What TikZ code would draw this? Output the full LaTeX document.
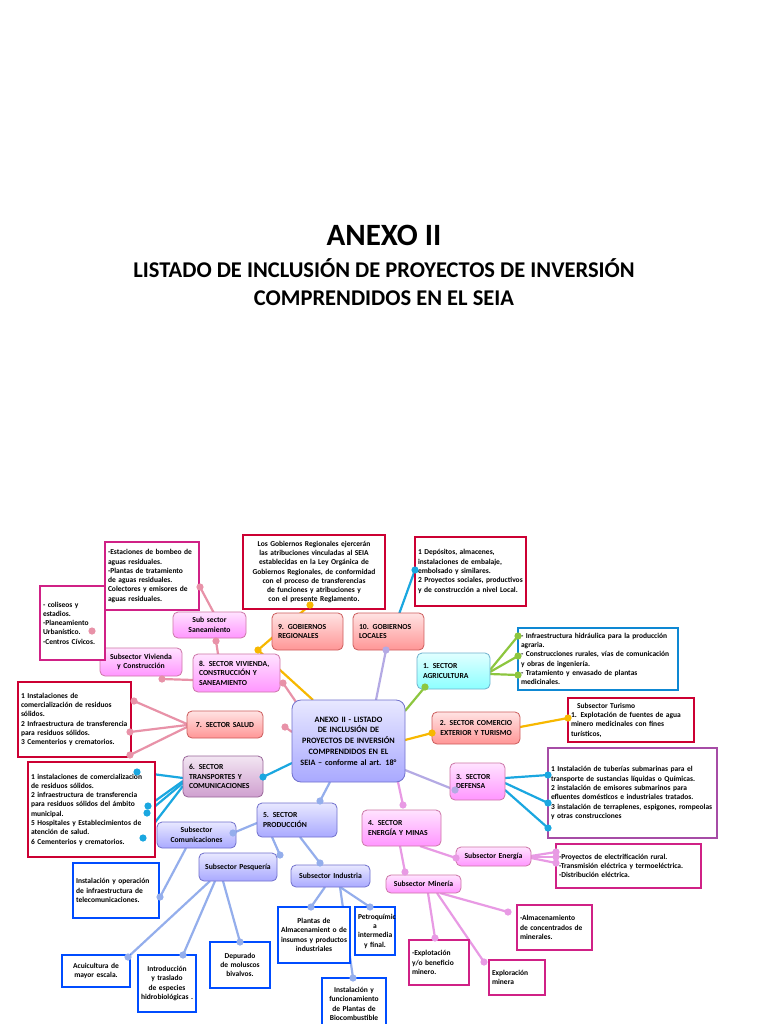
\documentclass[tikz,border=0pt]{standalone}
\usepackage{fontspec}
\setmainfont{Carlito}
\begin{document}
\hyphenpenalty=10000 \exhyphenpenalty=10000
\begin{tikzpicture}[x=1pt,y=-1pt,
 base/.style={rounded corners=5pt,line width=0.8pt,inner sep=2pt,font=\fontsize{7.7}{9.4}\selectfont\bfseries},
 pk/.style={base,draw=#1!80!black,top color=#1!20,bottom color=#1!75},
 pinkb/.style={pk=pink!60!red},
 magb/.style={pk=magenta!55!white},
 blueb/.style={pk=blue!45!white},
 agrib/.style={pk=cyan!60!white},
 purb/.style={pk=violet!50!white},
 tb/.style={line width=1.1pt,fill=white,inner sep=2pt,font=\fontsize{7.5}{9.3}\selectfont\bfseries},
 tred/.style={tb,draw=purple!80!red},
 tmag/.style={tb,draw=magenta!70!violet},
 tblu/.style={tb,draw=blue!70!cyan},
 tcy/.style={tb,draw=cyan!70!blue},
 tvio/.style={tb,draw=violet!70},
]
\definecolor{cpink}{HTML}{E892A8}
\definecolor{cgold}{HTML}{F7B800}
\definecolor{clav}{HTML}{B4AAE4}
\definecolor{cgreen}{HTML}{8DC63F}
\definecolor{ccyan}{HTML}{1AA7E0}
\definecolor{cmag}{HTML}{E89AE4}
\definecolor{cblue}{HTML}{94AEEC}
\useasboundingbox (0,0) rectangle (768,1024);
\fill[white] (0,0) rectangle (768,1024);
\node[font=\fontsize{31}{34}\selectfont\bfseries] (t1) at (384,235) {ANEXO II};
\node[font=\fontsize{22.5}{28.5}\selectfont\bfseries,align=center] (t2) at (384,282) {LISTADO DE INCLUSIÓN DE PROYECTOS DE INVERSIÓN\\COMPRENDIDOS EN EL SEIA};
\newcommand\bx[8]{\node[#6,minimum width={(#4-#2)*1pt},minimum height={(#5-#3)*1pt},text width={(#4-#2-6)*1pt},align=#7] (#1) at ({(#2+#4)/2},{(#3+#5)/2}) {#8};}
\gdef\dotlist{}
\newcommand\cn[3]{\draw[#1,line width=2.2pt] (#2) -- (#3); \xdef\dotlist{\unexpanded\expandafter{\dotlist}\noexpand\fill[#1] (#3) circle (3.6pt);}}
% connectors first
\coordinate (c9) at (258,650); \coordinate (c9b) at (310,605);
\coordinate (c10) at (386,650); \coordinate (c10b) at (415,570);
\coordinate (cag) at (425,687); \coordinate (ca1) at (518,636); \coordinate (ca2) at (518,656); \coordinate (ca3) at (518,675);
\coordinate (c2) at (432,733); \coordinate (ct) at (568,718);
\coordinate (c3) at (455,790); \coordinate (cd1) at (548,775); \coordinate (cd2) at (548,803); \coordinate (cd3) at (548,828);
\coordinate (c4) at (403,805);
\coordinate (ce) at (456,858); \coordinate (ce1) at (556,852); \coordinate (ce2) at (556,857); \coordinate (ce3) at (556,863);
\coordinate (cm) at (405,872);
\coordinate (cm1) at (508,912); \coordinate (cm2) at (435,938); \coordinate (cm3) at (484,962);
\coordinate (c5) at (320,801);
\coordinate (cc) at (233,833); \coordinate (cp) at (280,855); \coordinate (ci) at (320,863);
\coordinate (ctel) at (160,897); \coordinate (cac) at (128,957); \coordinate (cin) at (183,955); \coordinate (cde) at (240,942);
\coordinate (cpl) at (311,907); \coordinate (cpe) at (370,907); \coordinate (cbi) at (353,978);
\coordinate (c6) at (263,777); \coordinate (tr1) at (137,772); \coordinate (tr2) at (148,806); \coordinate (tr3) at (147,813); \coordinate (tr4) at (143,838);
\coordinate (c7) at (285,727); \coordinate (s1) at (134,701); \coordinate (s2) at (130,732); \coordinate (s3) at (130,755);
\coordinate (c8) at (283,683); \coordinate (cviv) at (162,679); \coordinate (csan) at (216,641); \coordinate (csb) at (200,587); \coordinate (cvb) at (92,631);
\cn{cgold}{313,700}{c9} \cn{cgold}{c9}{c9b}
\cn{clav}{376,700}{c10} \cn{ccyan}{c10}{c10b}
\cn{cgreen}{405,711}{cag} \cn{cgreen}{490,670}{ca1} \cn{cgreen}{490,672}{ca2} \cn{cgreen}{490,674}{ca3}
\cn{cgold}{405,740}{c2} \cn{cgold}{520,727}{ct}
\cn{clav}{405,770}{c3} \cn{ccyan}{505,778}{cd1} \cn{ccyan}{505,783}{cd2} \cn{ccyan}{505,790}{cd3}
\cn{cmag}{398,782}{c4}
\cn{cmag}{420,846}{ce} \cn{cmag}{531,856}{ce1} \cn{cmag}{531,857}{ce2} \cn{cmag}{531,858}{ce3}
\cn{cmag}{400,846}{cm}
\cn{cmag}{440,893}{cm1} \cn{cmag}{428,893}{cm2} \cn{cmag}{437,893}{cm3}
\cn{cblue}{330,782}{c5}
\cn{cblue}{257,823}{cc} \cn{cblue}{272,837}{cp} \cn{cblue}{300,837}{ci}
\cn{cblue}{186,848}{ctel} \cn{cblue}{210,881}{cac} \cn{cblue}{215,881}{cin} \cn{cblue}{223,881}{cde}
\cn{cblue}{325,887}{cpl} \cn{cblue}{340,887}{cpe} \cn{cblue}{340,887}{cbi}
\cn{ccyan}{292,763}{c6} \cn{ccyan}{183,778}{tr1} \cn{ccyan}{183,781}{tr2} \cn{ccyan}{183,783}{tr3} \cn{ccyan}{183,786}{tr4}
\cn{cpink}{292,732}{c7} \cn{cpink}{187,724}{s1} \cn{cpink}{187,725}{s2} \cn{cpink}{187,727}{s3}
\cn{cpink}{296,702}{c8} \cn{cpink}{193,680}{cviv} \cn{cpink}{218,654}{csan} \cn{cpink}{216,617}{csb} \cn{cpink}{105,650}{cvb}
% nodes
\bx{cen}{292}{700}{405}{782}{blueb,rounded corners=9pt,font=\fontsize{8.2}{10.8}\selectfont\bfseries}{center}{ANEXO II - LISTADO DE INCLUSIÓN DE PROYECTOS DE INVERSIÓN COMPRENDIDOS EN EL SEIA – conforme al art. 18°}
\bx{n9}{272}{613}{343}{650}{pinkb}{left}{\hspace*{3pt}9. GOBIERNOS\\\hspace*{3pt}REGIONALES}
\bx{n10}{353}{613}{424}{650}{pinkb}{left}{\hspace*{3pt}10. GOBIERNOS\\\hspace*{3pt}LOCALES}
\bx{gr}{243}{535}{385}{609}{tred}{center}{Los Gobiernos Regionales ejercerán las atribuciones vinculadas al SEIA establecidas en la Ley Orgánica de Gobiernos Regionales, de conformidad con el proceso de transferencias de funciones y atribuciones y con el presente Reglamento.}
\bx{gl}{415}{537}{526}{606}{tred}{left}{1 Depósitos, almacenes, instalaciones de embalaje, embolsado y similares.\\2 Proyectos sociales, productivos y de construcción a nivel Local.}
\bx{n1}{417}{653}{490}{689}{agrib}{left}{\hspace*{3pt}1. SECTOR\\\hspace*{3pt}AGRICULTURA}
\bx{ag}{518}{628}{678}{690}{tcy}{left}{- Infraestructura hidráulica para la producción agraria.\\- Construcciones rurales, vías de comunicación y obras de ingeniería.\\- Tratamiento y envasado de plantas medicinales.}
\bx{n2}{432}{712}{520}{744}{pinkb}{center}{2. SECTOR COMERCIO EXTERIOR Y TURISMO}
\bx{tu}{568}{698}{694}{742}{tred}{left}{\hspace*{6pt}Subsector Turismo\\1. Explotación de fuentes de agua minero medicinales con fines turísticos,}
\bx{n3}{450}{763}{505}{800}{magb}{left}{\hspace*{3pt}3. SECTOR\\\hspace*{3pt}DEFENSA}
\bx{de}{548}{748}{717}{838}{tvio}{left}{1 Instalación de tuberías submarinas para el transporte de sustancias líquidas o Químicas.\\2 instalación de emisores submarinos para efluentes domésticos e industriales tratados.\\3 instalación de terraplenes, espigones, rompeolas y otras construcciones}
\bx{n4}{362}{810}{441}{846}{magb}{left}{\hspace*{3pt}4. SECTOR\\\hspace*{3pt}ENERGÍA Y MINAS}
\bx{se}{456}{847}{531}{866}{magb}{center}{Subsector Energía}
\bx{en}{556}{844}{701}{888}{tmag}{left}{-Proyectos de electrificación rural.\\-Transmisión eléctrica y termoeléctrica.\\-Distribución eléctrica.\\[2pt]}
\bx{sm}{386}{875}{461}{893}{magb}{center}{Subsector Minería}
\bx{m1}{517}{905}{592}{950}{tmag}{left}{-Almacenamiento de concentrados de minerales.}
\bx{m2}{409}{940}{469}{985}{tmag}{left}{-Explotación y/o beneficio minero.}
\bx{m3}{489}{960}{545}{995}{tmag}{left}{Exploración minera}
\bx{n5}{257}{803}{337}{837}{blueb}{left}{\hspace*{3pt}5. SECTOR\\\hspace*{3pt}PRODUCCIÓN}
\bx{sc}{157}{822}{236}{848}{blueb}{center}{Subsector Comunicaciones}
\bx{sp}{199}{853}{277}{881}{blueb}{center}{Subsector Pesquería}
\bx{si}{291}{865}{370}{887}{blueb}{center}{Subsector Industria}
\bx{tel}{73}{863}{159}{918}{tblu}{left}{Instalación y operación de infraestructura de telecomunicaciones.}
\bx{acu}{62}{955}{130}{987}{tblu}{center}{Acuicultura de mayor escala.}
\bx{intr}{138}{955}{196}{1012}{tblu}{center}{Introducción y traslado de especies hidrobiológicas .}
\bx{dep}{210}{942}{270}{988}{tblu}{center}{Depurado de moluscos bivalvos.}
\bx{pla}{278}{907}{350}{963}{tblu}{center}{Plantas de Almacenamient o de insumos y productos industriales}
\bx{pet}{355}{907}{395}{955}{tblu}{center}{Petroquímic a intermedia y final.}
\bx{bio}{322}{978}{386}{1030}{tblu}{center}{Instalación y funcionamiento de Plantas de Biocombustible}
\bx{n6}{183}{756}{263}{797}{purb}{left}{\hspace*{3pt}6. SECTOR\\\hspace*{3pt}TRANSPORTES Y\\\hspace*{3pt}COMUNICACIONES}
\bx{trb}{28}{762}{155}{857}{tred}{left}{1 instalaciones de comercialización de residuos sólidos.\\2 infraestructura de transferencia para residuos sólidos del ámbito municipal.\\5 Hospitales y Establecimientos de atención de salud.\\6 Cementerios y crematorios.}
\bx{n7}{187}{711}{263}{738}{pinkb}{center}{7. SECTOR SALUD}
\bx{sa}{18}{682}{131}{757}{tred}{left}{1 Instalaciones de comercialización de residuos sólidos.\\2 Infraestructura de transferencia para residuos sólidos.\\3 Cementerios y crematorios.}
\bx{n8}{193}{654}{280}{692}{magb}{left}{\hspace*{3pt}8. SECTOR VIVIENDA,\\\hspace*{3pt}CONSTRUCCIÓN Y\\\hspace*{3pt}SANEAMIENTO}
\bx{ssan}{173}{612}{246}{638}{magb}{center}{Sub sector Saneamiento}
\bx{sviv}{100}{648}{182}{676}{magb}{center}{Subsector Vivienda y Construcción}
\bx{san}{105}{542}{199}{610}{tmag}{left}{-Estaciones de bombeo de aguas residuales.\\-Plantas de tratamiento de aguas residuales. Colectores y emisores de aguas residuales.}
\bx{viv}{40}{586}{105}{660}{tmag}{left}{- coliseos y estadios.\\-Planeamiento Urbanístico.\\-Centros Cívicos.}
\dotlist
\end{tikzpicture}
\end{document}
